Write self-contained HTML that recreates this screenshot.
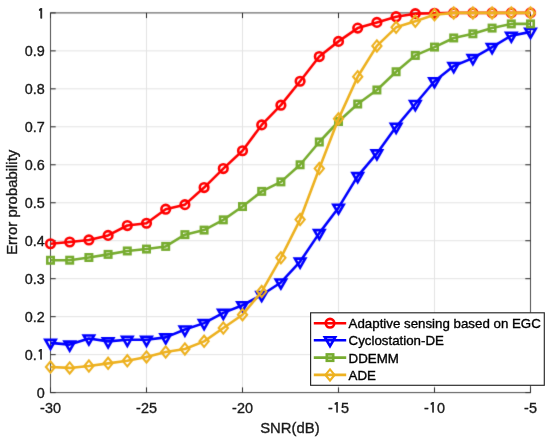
<!DOCTYPE html>
<html><head><meta charset="utf-8"><style>
html,body{margin:0;padding:0;background:#fff;width:550px;height:442px;overflow:hidden;}
svg{display:block;}
</style></head><body>
<svg width="550" height="442" viewBox="0 0 550 442" font-family="Liberation Sans, sans-serif"><defs><filter id="bl" x="0" y="0" width="1" height="1" color-interpolation-filters="sRGB"><feConvolveMatrix order="3" kernelMatrix="0.0100 0.0800 0.0100 0.0800 0.6400 0.0800 0.0100 0.0800 0.0100" divisor="1" edgeMode="duplicate" preserveAlpha="true"/></filter></defs><g filter="url(#bl)"><rect width="550" height="442" fill="#fff"/>
<g stroke="#e3e3e3" stroke-width="1"><line x1="146.5" y1="12.9" x2="146.5" y2="392.6"/><line x1="242.5" y1="12.9" x2="242.5" y2="392.6"/><line x1="338.5" y1="12.9" x2="338.5" y2="392.6"/><line x1="434.5" y1="12.9" x2="434.5" y2="392.6"/><line x1="50.5" y1="354.63" x2="530.5" y2="354.63"/><line x1="50.5" y1="316.66" x2="530.5" y2="316.66"/><line x1="50.5" y1="278.69" x2="530.5" y2="278.69"/><line x1="50.5" y1="240.72" x2="530.5" y2="240.72"/><line x1="50.5" y1="202.75" x2="530.5" y2="202.75"/><line x1="50.5" y1="164.78" x2="530.5" y2="164.78"/><line x1="50.5" y1="126.81" x2="530.5" y2="126.81"/><line x1="50.5" y1="88.84" x2="530.5" y2="88.84"/><line x1="50.5" y1="50.87" x2="530.5" y2="50.87"/></g>
<g stroke="#262626" stroke-width="1" fill="none"><rect x="50.5" y="12.9" width="480.0" height="379.70000000000005" fill="none" stroke="#4a4a4a"/><line x1="50.5" y1="392.6" x2="50.5" y2="387.40000000000003"/><line x1="50.5" y1="12.9" x2="50.5" y2="18.1"/><line x1="146.5" y1="392.6" x2="146.5" y2="387.40000000000003"/><line x1="146.5" y1="12.9" x2="146.5" y2="18.1"/><line x1="242.5" y1="392.6" x2="242.5" y2="387.40000000000003"/><line x1="242.5" y1="12.9" x2="242.5" y2="18.1"/><line x1="338.5" y1="392.6" x2="338.5" y2="387.40000000000003"/><line x1="338.5" y1="12.9" x2="338.5" y2="18.1"/><line x1="434.5" y1="392.6" x2="434.5" y2="387.40000000000003"/><line x1="434.5" y1="12.9" x2="434.5" y2="18.1"/><line x1="530.5" y1="392.6" x2="530.5" y2="387.40000000000003"/><line x1="530.5" y1="12.9" x2="530.5" y2="18.1"/><line x1="50.5" y1="392.60" x2="55.7" y2="392.60"/><line x1="530.5" y1="392.60" x2="525.3" y2="392.60"/><line x1="50.5" y1="354.63" x2="55.7" y2="354.63"/><line x1="530.5" y1="354.63" x2="525.3" y2="354.63"/><line x1="50.5" y1="316.66" x2="55.7" y2="316.66"/><line x1="530.5" y1="316.66" x2="525.3" y2="316.66"/><line x1="50.5" y1="278.69" x2="55.7" y2="278.69"/><line x1="530.5" y1="278.69" x2="525.3" y2="278.69"/><line x1="50.5" y1="240.72" x2="55.7" y2="240.72"/><line x1="530.5" y1="240.72" x2="525.3" y2="240.72"/><line x1="50.5" y1="202.75" x2="55.7" y2="202.75"/><line x1="530.5" y1="202.75" x2="525.3" y2="202.75"/><line x1="50.5" y1="164.78" x2="55.7" y2="164.78"/><line x1="530.5" y1="164.78" x2="525.3" y2="164.78"/><line x1="50.5" y1="126.81" x2="55.7" y2="126.81"/><line x1="530.5" y1="126.81" x2="525.3" y2="126.81"/><line x1="50.5" y1="88.84" x2="55.7" y2="88.84"/><line x1="530.5" y1="88.84" x2="525.3" y2="88.84"/><line x1="50.5" y1="50.87" x2="55.7" y2="50.87"/><line x1="530.5" y1="50.87" x2="525.3" y2="50.87"/><line x1="50.5" y1="12.90" x2="55.7" y2="12.90"/><line x1="530.5" y1="12.90" x2="525.3" y2="12.90"/></g>
<polyline points="50.50,243.76 69.70,242.01 88.90,239.96 108.10,235.40 127.30,225.53 146.50,223.25 165.70,209.20 184.90,204.65 204.10,187.56 223.30,168.58 242.50,150.73 261.70,124.91 280.90,105.17 300.10,81.25 319.30,56.57 338.50,41.38 357.70,28.09 376.90,22.39 396.10,16.70 415.30,13.66 434.50,13.28 453.70,12.90 472.90,12.90 492.10,12.90 511.30,12.90 530.50,12.90" fill="none" stroke="#ff0000" stroke-width="2.6" stroke-linejoin="round"/>
<circle cx="50.50" cy="243.76" r="4.3" fill="none" stroke="#ff0000" stroke-width="2.6"/><circle cx="69.70" cy="242.01" r="4.3" fill="none" stroke="#ff0000" stroke-width="2.6"/><circle cx="88.90" cy="239.96" r="4.3" fill="none" stroke="#ff0000" stroke-width="2.6"/><circle cx="108.10" cy="235.40" r="4.3" fill="none" stroke="#ff0000" stroke-width="2.6"/><circle cx="127.30" cy="225.53" r="4.3" fill="none" stroke="#ff0000" stroke-width="2.6"/><circle cx="146.50" cy="223.25" r="4.3" fill="none" stroke="#ff0000" stroke-width="2.6"/><circle cx="165.70" cy="209.20" r="4.3" fill="none" stroke="#ff0000" stroke-width="2.6"/><circle cx="184.90" cy="204.65" r="4.3" fill="none" stroke="#ff0000" stroke-width="2.6"/><circle cx="204.10" cy="187.56" r="4.3" fill="none" stroke="#ff0000" stroke-width="2.6"/><circle cx="223.30" cy="168.58" r="4.3" fill="none" stroke="#ff0000" stroke-width="2.6"/><circle cx="242.50" cy="150.73" r="4.3" fill="none" stroke="#ff0000" stroke-width="2.6"/><circle cx="261.70" cy="124.91" r="4.3" fill="none" stroke="#ff0000" stroke-width="2.6"/><circle cx="280.90" cy="105.17" r="4.3" fill="none" stroke="#ff0000" stroke-width="2.6"/><circle cx="300.10" cy="81.25" r="4.3" fill="none" stroke="#ff0000" stroke-width="2.6"/><circle cx="319.30" cy="56.57" r="4.3" fill="none" stroke="#ff0000" stroke-width="2.6"/><circle cx="338.50" cy="41.38" r="4.3" fill="none" stroke="#ff0000" stroke-width="2.6"/><circle cx="357.70" cy="28.09" r="4.3" fill="none" stroke="#ff0000" stroke-width="2.6"/><circle cx="376.90" cy="22.39" r="4.3" fill="none" stroke="#ff0000" stroke-width="2.6"/><circle cx="396.10" cy="16.70" r="4.3" fill="none" stroke="#ff0000" stroke-width="2.6"/><circle cx="415.30" cy="13.66" r="4.3" fill="none" stroke="#ff0000" stroke-width="2.6"/><circle cx="434.50" cy="13.28" r="4.3" fill="none" stroke="#ff0000" stroke-width="2.6"/><circle cx="453.70" cy="12.90" r="4.3" fill="none" stroke="#ff0000" stroke-width="2.6"/><circle cx="472.90" cy="12.90" r="4.3" fill="none" stroke="#ff0000" stroke-width="2.6"/><circle cx="492.10" cy="12.90" r="4.3" fill="none" stroke="#ff0000" stroke-width="2.6"/><circle cx="511.30" cy="12.90" r="4.3" fill="none" stroke="#ff0000" stroke-width="2.6"/><circle cx="530.50" cy="12.90" r="4.3" fill="none" stroke="#ff0000" stroke-width="2.6"/>
<polyline points="50.50,342.86 69.70,344.61 88.90,338.49 108.10,341.34 127.30,339.82 146.50,339.82 165.70,337.35 184.90,329.57 204.10,323.11 223.30,312.86 242.50,305.27 261.70,295.02 280.90,282.49 300.10,261.60 319.30,233.13 338.50,207.69 357.70,176.17 376.90,153.39 396.10,126.81 415.30,104.03 434.50,81.25 453.70,66.06 472.90,58.08 492.10,47.07 511.30,35.68 530.50,31.88" fill="none" stroke="#0000ff" stroke-width="2.6" stroke-linejoin="round"/>
<polygon points="50.50,348.86 45.30,339.86 55.70,339.86" fill="none" stroke="#0000ff" stroke-width="2.6"/><polygon points="69.70,350.61 64.50,341.61 74.90,341.61" fill="none" stroke="#0000ff" stroke-width="2.6"/><polygon points="88.90,344.49 83.70,335.49 94.10,335.49" fill="none" stroke="#0000ff" stroke-width="2.6"/><polygon points="108.10,347.34 102.90,338.34 113.30,338.34" fill="none" stroke="#0000ff" stroke-width="2.6"/><polygon points="127.30,345.82 122.10,336.82 132.50,336.82" fill="none" stroke="#0000ff" stroke-width="2.6"/><polygon points="146.50,345.82 141.30,336.82 151.70,336.82" fill="none" stroke="#0000ff" stroke-width="2.6"/><polygon points="165.70,343.35 160.50,334.35 170.90,334.35" fill="none" stroke="#0000ff" stroke-width="2.6"/><polygon points="184.90,335.57 179.70,326.57 190.10,326.57" fill="none" stroke="#0000ff" stroke-width="2.6"/><polygon points="204.10,329.11 198.90,320.11 209.30,320.11" fill="none" stroke="#0000ff" stroke-width="2.6"/><polygon points="223.30,318.86 218.10,309.86 228.50,309.86" fill="none" stroke="#0000ff" stroke-width="2.6"/><polygon points="242.50,311.27 237.30,302.27 247.70,302.27" fill="none" stroke="#0000ff" stroke-width="2.6"/><polygon points="261.70,301.02 256.50,292.02 266.90,292.02" fill="none" stroke="#0000ff" stroke-width="2.6"/><polygon points="280.90,288.49 275.70,279.49 286.10,279.49" fill="none" stroke="#0000ff" stroke-width="2.6"/><polygon points="300.10,267.60 294.90,258.60 305.30,258.60" fill="none" stroke="#0000ff" stroke-width="2.6"/><polygon points="319.30,239.13 314.10,230.13 324.50,230.13" fill="none" stroke="#0000ff" stroke-width="2.6"/><polygon points="338.50,213.69 333.30,204.69 343.70,204.69" fill="none" stroke="#0000ff" stroke-width="2.6"/><polygon points="357.70,182.17 352.50,173.17 362.90,173.17" fill="none" stroke="#0000ff" stroke-width="2.6"/><polygon points="376.90,159.39 371.70,150.39 382.10,150.39" fill="none" stroke="#0000ff" stroke-width="2.6"/><polygon points="396.10,132.81 390.90,123.81 401.30,123.81" fill="none" stroke="#0000ff" stroke-width="2.6"/><polygon points="415.30,110.03 410.10,101.03 420.50,101.03" fill="none" stroke="#0000ff" stroke-width="2.6"/><polygon points="434.50,87.25 429.30,78.25 439.70,78.25" fill="none" stroke="#0000ff" stroke-width="2.6"/><polygon points="453.70,72.06 448.50,63.06 458.90,63.06" fill="none" stroke="#0000ff" stroke-width="2.6"/><polygon points="472.90,64.08 467.70,55.08 478.10,55.08" fill="none" stroke="#0000ff" stroke-width="2.6"/><polygon points="492.10,53.07 486.90,44.07 497.30,44.07" fill="none" stroke="#0000ff" stroke-width="2.6"/><polygon points="511.30,41.68 506.10,32.68 516.50,32.68" fill="none" stroke="#0000ff" stroke-width="2.6"/><polygon points="530.50,37.88 525.30,28.88 535.70,28.88" fill="none" stroke="#0000ff" stroke-width="2.6"/>
<polyline points="50.50,260.27 69.70,260.20 88.90,257.50 108.10,254.39 127.30,250.97 146.50,249.07 165.70,246.42 184.90,234.64 204.10,230.09 223.30,219.84 242.50,206.55 261.70,191.36 280.90,181.87 300.10,164.78 319.30,142.00 338.50,121.49 357.70,104.03 376.90,89.98 396.10,71.75 415.30,55.43 434.50,47.07 453.70,37.96 472.90,33.78 492.10,28.09 511.30,23.91 530.50,23.91" fill="none" stroke="#77ac30" stroke-width="2.6" stroke-linejoin="round"/>
<rect x="47.30" y="257.07" width="6.40" height="6.40" fill="none" stroke="#77ac30" stroke-width="2.6"/><rect x="66.50" y="257.00" width="6.40" height="6.40" fill="none" stroke="#77ac30" stroke-width="2.6"/><rect x="85.70" y="254.30" width="6.40" height="6.40" fill="none" stroke="#77ac30" stroke-width="2.6"/><rect x="104.90" y="251.19" width="6.40" height="6.40" fill="none" stroke="#77ac30" stroke-width="2.6"/><rect x="124.10" y="247.77" width="6.40" height="6.40" fill="none" stroke="#77ac30" stroke-width="2.6"/><rect x="143.30" y="245.87" width="6.40" height="6.40" fill="none" stroke="#77ac30" stroke-width="2.6"/><rect x="162.50" y="243.22" width="6.40" height="6.40" fill="none" stroke="#77ac30" stroke-width="2.6"/><rect x="181.70" y="231.44" width="6.40" height="6.40" fill="none" stroke="#77ac30" stroke-width="2.6"/><rect x="200.90" y="226.89" width="6.40" height="6.40" fill="none" stroke="#77ac30" stroke-width="2.6"/><rect x="220.10" y="216.64" width="6.40" height="6.40" fill="none" stroke="#77ac30" stroke-width="2.6"/><rect x="239.30" y="203.35" width="6.40" height="6.40" fill="none" stroke="#77ac30" stroke-width="2.6"/><rect x="258.50" y="188.16" width="6.40" height="6.40" fill="none" stroke="#77ac30" stroke-width="2.6"/><rect x="277.70" y="178.67" width="6.40" height="6.40" fill="none" stroke="#77ac30" stroke-width="2.6"/><rect x="296.90" y="161.58" width="6.40" height="6.40" fill="none" stroke="#77ac30" stroke-width="2.6"/><rect x="316.10" y="138.80" width="6.40" height="6.40" fill="none" stroke="#77ac30" stroke-width="2.6"/><rect x="335.30" y="118.29" width="6.40" height="6.40" fill="none" stroke="#77ac30" stroke-width="2.6"/><rect x="354.50" y="100.83" width="6.40" height="6.40" fill="none" stroke="#77ac30" stroke-width="2.6"/><rect x="373.70" y="86.78" width="6.40" height="6.40" fill="none" stroke="#77ac30" stroke-width="2.6"/><rect x="392.90" y="68.55" width="6.40" height="6.40" fill="none" stroke="#77ac30" stroke-width="2.6"/><rect x="412.10" y="52.23" width="6.40" height="6.40" fill="none" stroke="#77ac30" stroke-width="2.6"/><rect x="431.30" y="43.87" width="6.40" height="6.40" fill="none" stroke="#77ac30" stroke-width="2.6"/><rect x="450.50" y="34.76" width="6.40" height="6.40" fill="none" stroke="#77ac30" stroke-width="2.6"/><rect x="469.70" y="30.58" width="6.40" height="6.40" fill="none" stroke="#77ac30" stroke-width="2.6"/><rect x="488.90" y="24.89" width="6.40" height="6.40" fill="none" stroke="#77ac30" stroke-width="2.6"/><rect x="508.10" y="20.71" width="6.40" height="6.40" fill="none" stroke="#77ac30" stroke-width="2.6"/><rect x="527.30" y="20.71" width="6.40" height="6.40" fill="none" stroke="#77ac30" stroke-width="2.6"/>
<polyline points="50.50,366.97 69.70,367.92 88.90,366.02 108.10,363.36 127.30,360.82 146.50,356.91 165.70,351.97 184.90,348.93 204.10,341.34 223.30,328.05 242.50,314.76 261.70,291.60 280.90,257.81 300.10,219.57 319.30,168.58 338.50,118.84 357.70,76.69 376.90,45.93 396.10,27.33 415.30,21.25 434.50,14.80 453.70,12.90 472.90,12.90 492.10,12.90 511.30,12.90 530.50,12.90" fill="none" stroke="#edb120" stroke-width="2.6" stroke-linejoin="round"/>
<polygon points="50.50,361.37 55.10,366.97 50.50,372.57 45.90,366.97" fill="none" stroke="#edb120" stroke-width="2.1"/><polygon points="69.70,362.32 74.30,367.92 69.70,373.52 65.10,367.92" fill="none" stroke="#edb120" stroke-width="2.1"/><polygon points="88.90,360.42 93.50,366.02 88.90,371.62 84.30,366.02" fill="none" stroke="#edb120" stroke-width="2.1"/><polygon points="108.10,357.76 112.70,363.36 108.10,368.96 103.50,363.36" fill="none" stroke="#edb120" stroke-width="2.1"/><polygon points="127.30,355.22 131.90,360.82 127.30,366.42 122.70,360.82" fill="none" stroke="#edb120" stroke-width="2.1"/><polygon points="146.50,351.31 151.10,356.91 146.50,362.51 141.90,356.91" fill="none" stroke="#edb120" stroke-width="2.1"/><polygon points="165.70,346.37 170.30,351.97 165.70,357.57 161.10,351.97" fill="none" stroke="#edb120" stroke-width="2.1"/><polygon points="184.90,343.33 189.50,348.93 184.90,354.53 180.30,348.93" fill="none" stroke="#edb120" stroke-width="2.1"/><polygon points="204.10,335.74 208.70,341.34 204.10,346.94 199.50,341.34" fill="none" stroke="#edb120" stroke-width="2.1"/><polygon points="223.30,322.45 227.90,328.05 223.30,333.65 218.70,328.05" fill="none" stroke="#edb120" stroke-width="2.1"/><polygon points="242.50,309.16 247.10,314.76 242.50,320.36 237.90,314.76" fill="none" stroke="#edb120" stroke-width="2.1"/><polygon points="261.70,286.00 266.30,291.60 261.70,297.20 257.10,291.60" fill="none" stroke="#edb120" stroke-width="2.1"/><polygon points="280.90,252.21 285.50,257.81 280.90,263.41 276.30,257.81" fill="none" stroke="#edb120" stroke-width="2.1"/><polygon points="300.10,213.97 304.70,219.57 300.10,225.17 295.50,219.57" fill="none" stroke="#edb120" stroke-width="2.1"/><polygon points="319.30,162.98 323.90,168.58 319.30,174.18 314.70,168.58" fill="none" stroke="#edb120" stroke-width="2.1"/><polygon points="338.50,113.24 343.10,118.84 338.50,124.44 333.90,118.84" fill="none" stroke="#edb120" stroke-width="2.1"/><polygon points="357.70,71.09 362.30,76.69 357.70,82.29 353.10,76.69" fill="none" stroke="#edb120" stroke-width="2.1"/><polygon points="376.90,40.33 381.50,45.93 376.90,51.53 372.30,45.93" fill="none" stroke="#edb120" stroke-width="2.1"/><polygon points="396.10,21.73 400.70,27.33 396.10,32.93 391.50,27.33" fill="none" stroke="#edb120" stroke-width="2.1"/><polygon points="415.30,15.65 419.90,21.25 415.30,26.85 410.70,21.25" fill="none" stroke="#edb120" stroke-width="2.1"/><polygon points="434.50,9.20 439.10,14.80 434.50,20.40 429.90,14.80" fill="none" stroke="#edb120" stroke-width="2.1"/><polygon points="453.70,7.30 458.30,12.90 453.70,18.50 449.10,12.90" fill="none" stroke="#edb120" stroke-width="2.1"/><polygon points="472.90,7.30 477.50,12.90 472.90,18.50 468.30,12.90" fill="none" stroke="#edb120" stroke-width="2.1"/><polygon points="492.10,7.30 496.70,12.90 492.10,18.50 487.50,12.90" fill="none" stroke="#edb120" stroke-width="2.1"/><polygon points="511.30,7.30 515.90,12.90 511.30,18.50 506.70,12.90" fill="none" stroke="#edb120" stroke-width="2.1"/><polygon points="530.50,7.30 535.10,12.90 530.50,18.50 525.90,12.90" fill="none" stroke="#edb120" stroke-width="2.1"/>
</g>
<rect x="310.6" y="312.8" width="233.69999999999993" height="72.5" fill="#fff" stroke="#262626" stroke-width="1.15"/>
<line x1="313.8" y1="323.2" x2="346.2" y2="323.2" stroke="#ff0000" stroke-width="2.6"/>
<circle cx="330.00" cy="323.20" r="4.3" fill="none" stroke="#ff0000" stroke-width="2.6"/>
<line x1="313.8" y1="340.2" x2="346.2" y2="340.2" stroke="#0000ff" stroke-width="2.6"/>
<polygon points="330.00,346.20 324.80,337.20 335.20,337.20" fill="none" stroke="#0000ff" stroke-width="2.6"/>
<line x1="313.8" y1="357.6" x2="346.2" y2="357.6" stroke="#77ac30" stroke-width="2.6"/>
<rect x="326.80" y="354.40" width="6.40" height="6.40" fill="none" stroke="#77ac30" stroke-width="2.6"/>
<line x1="313.8" y1="374.9" x2="346.2" y2="374.9" stroke="#edb120" stroke-width="2.6"/>
<polygon points="330.00,369.30 334.60,374.90 330.00,380.50 325.40,374.90" fill="none" stroke="#edb120" stroke-width="2.1"/>
<g font-size="14.4" fill="#1a1a1a" stroke="#1a1a1a" stroke-width="0.35"><text x="50.50" y="412.5" text-anchor="middle">-30</text><text x="146.50" y="412.5" text-anchor="middle">-25</text><text x="242.50" y="412.5" text-anchor="middle">-20</text><text x="338.50" y="412.5" text-anchor="middle">-<tspan dx="0.4" dy="0.5" letter-spacing="0.4" stroke-width="0.55" font-family="IPAGothic, sans-serif">1</tspan><tspan dy="-0.5">5</tspan></text><text x="434.50" y="412.5" text-anchor="middle">-<tspan dx="0.4" dy="0.5" letter-spacing="0.4" stroke-width="0.55" font-family="IPAGothic, sans-serif">1</tspan><tspan dy="-0.5">0</tspan></text><text x="530.50" y="412.5" text-anchor="middle">-5</text><text x="44.8" y="397.90" text-anchor="end">0</text><text x="44.8" y="359.93" text-anchor="end">0.<tspan dx="0.4" dy="0.5" letter-spacing="0.4" stroke-width="0.55" font-family="IPAGothic, sans-serif">1</tspan></text><text x="44.8" y="321.96" text-anchor="end">0.2</text><text x="44.8" y="283.99" text-anchor="end">0.3</text><text x="44.8" y="246.02" text-anchor="end">0.4</text><text x="44.8" y="208.05" text-anchor="end">0.5</text><text x="44.8" y="170.08" text-anchor="end">0.6</text><text x="44.8" y="132.11" text-anchor="end">0.7</text><text x="44.8" y="94.14" text-anchor="end">0.8</text><text x="44.8" y="56.17" text-anchor="end">0.9</text><text x="44.8" y="18.20" text-anchor="end"><tspan dx="0.4" dy="0.5" letter-spacing="0.4" stroke-width="0.55" font-family="IPAGothic, sans-serif">1</tspan></text></g>
<text x="289.9" y="433.2" text-anchor="middle" font-size="14.85" fill="#1a1a1a" stroke="#1a1a1a" stroke-width="0.35">SNR(dB)</text>
<text transform="translate(17.3,202.3) rotate(-90)" text-anchor="middle" font-size="14.9" fill="#1a1a1a" stroke="#1a1a1a" stroke-width="0.35">Error probability</text>
<text x="348.6" y="328.20" font-size="13.3" fill="#000" stroke="#000" stroke-width="0.35">Adaptive sensing based on EGC</text>
<text x="348.6" y="345.20" font-size="13.3" fill="#000" stroke="#000" stroke-width="0.35">Cyclostation-DE</text>
<text x="348.6" y="362.60" font-size="13.3" fill="#000" stroke="#000" stroke-width="0.35">DDEMM</text>
<text x="348.6" y="379.90" font-size="13.3" fill="#000" stroke="#000" stroke-width="0.35">ADE</text>
</svg>
</body></html>
